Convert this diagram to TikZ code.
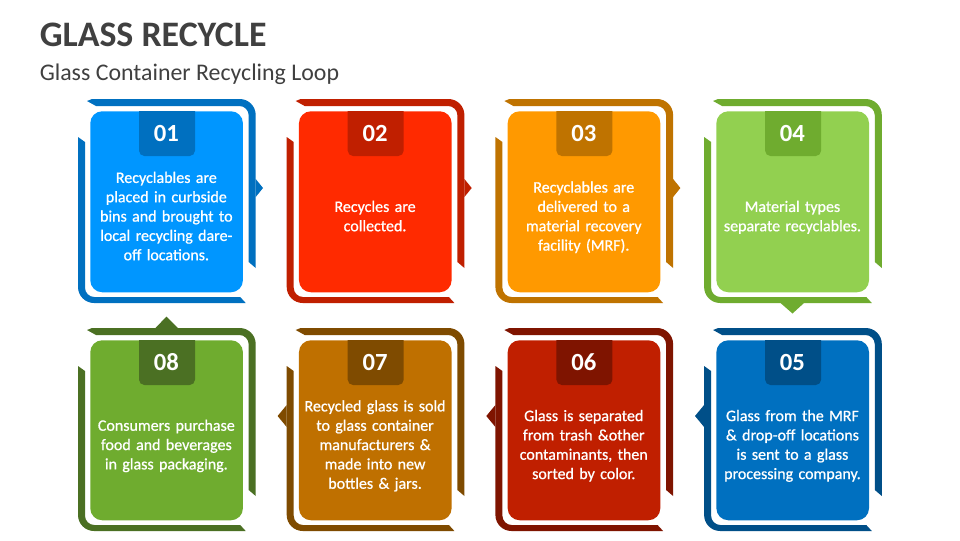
\documentclass[tikz,border=0pt]{standalone}
\usepackage{fontspec}
\setmainfont{Carlito}
\newfontfamily\cardfont[FakeBold=0.8,WordSpace=0.8]{Carlito}
\tikzset{
  x=0.75pt,y=-0.75pt,
  cardbox/.style={anchor=north west,rounded corners=9pt,inner sep=0pt},
  cardtext/.style={text=white,font=\fontsize{12}{14.5}\cardfont,align=center,text width=112pt,inner sep=0pt},
  numtext/.style={text=white,font=\fontsize{18.5}{20}\selectfont\bfseries,inner sep=0pt},
  titletext/.style={anchor=west,text=textgrey,font=\fontsize{26.9}{30}\selectfont\bfseries,inner sep=0pt},
  subtext/.style={anchor=west,text=textgrey,font=\fontsize{17.9}{20}\selectfont,inner sep=0pt},
}
\definecolor{textgrey}{HTML}{404040}
\definecolor{cA}{HTML}{0096FF}\definecolor{dA}{HTML}{0070C0}
\definecolor{cB}{HTML}{FF2A00}\definecolor{dB}{HTML}{C01F00}
\definecolor{cC}{HTML}{FF9900}\definecolor{dC}{HTML}{BF7300}
\definecolor{cD}{HTML}{92D050}\definecolor{dD}{HTML}{6FAC2F}
\definecolor{cE}{HTML}{0070C0}\definecolor{dE}{HTML}{004F88}
\definecolor{cF}{HTML}{C01F00}\definecolor{dF}{HTML}{7F1400}
\definecolor{cG}{HTML}{BF7000}\definecolor{dG}{HTML}{7F4B00}
\definecolor{cH}{HTML}{6FAC2F}\definecolor{dH}{HTML}{4B7023}
% #1 name, #2 x0, #3 y0, #4 y1, #5 fill, #6 dark, #7 number, #8 text, #9 text centre y
\newcommand{\cardblock}[9]{%
  \pgfmathsetmacro{\xa}{#2}\pgfmathsetmacro{\xb}{#2+152.7}
  \pgfmathsetmacro{\ya}{#3}\pgfmathsetmacro{\yb}{#4}
  \pgfmathsetmacro{\hgt}{(#4-#3)*0.75}
  \pgfmathsetmacro{\xm}{#2+76.35}
  % upper right bracket
  \fill[#6] (\xa-3,\ya-10) -- (\xa+2,\ya-12) [rounded corners=12pt] -- (\xb+13,\ya-12)
     [sharp corners] -- (\xb+13,\yb-24) -- (\xb+6,\yb-30) [rounded corners=7pt] -- (\xb+6,\ya-5) [sharp corners] -- (\xa+6,\ya-5) -- cycle;
  % lower left bracket
  \fill[#6] (\xa-12,\ya+26) -- (\xa-5,\ya+31) [rounded corners=7pt] -- (\xa-5,\yb+5) [sharp corners] -- (\xb-2.5,\yb+5)
     -- (\xb+3,\yb+11) [rounded corners=12pt] -- (\xa-12,\yb+11) [sharp corners] -- cycle;
  \node[cardbox,fill=#5,minimum width=114.5pt,minimum height=\hgt pt] (#1) at (\xa,\ya) {};
  \fill[#6] (\xa+49,\ya) [rounded corners=4pt] -- (\xa+49,\ya+45) -- (\xa+105,\ya+45) [sharp corners] -- (\xa+105,\ya) -- cycle;
  \node[numtext] (#1num) at (\xm,\ya+22) {#7};
  \node[cardtext] (#1txt) at (\xm,#9+0.6) {\vphantom{(Ag}#8\vphantom{(Ag}};
}
\begin{document}
\begin{tikzpicture}
\useasboundingbox (0,0) rectangle (960,540);
\fill[white] (0,0) rectangle (960,540);
\node[titletext] (title) at (39.5,34.5) {GLASS RECYCLE};
\node[subtext] (subtitle) at (39.5,74.6) {Glass Container Recycling Loop};
% pointers
\fill[dA] (255.7,179) -- (263,188) -- (255.7,197) -- cycle;
\fill[dB] (464.4,179) -- (471.7,188) -- (464.4,197) -- cycle;
\fill[dC] (673.1,179) -- (680.4,188) -- (673.1,197) -- cycle;
\fill[dD] (780.5,303) -- (792.5,313.5) -- (804,303) -- cycle;
\fill[dE] (704.1,405) -- (695,416) -- (704.1,427) -- cycle;
\fill[dF] (495.4,405) -- (486.3,416) -- (495.4,427) -- cycle;
\fill[dG] (286.7,405) -- (277.6,416) -- (286.7,427) -- cycle;
\fill[dH] (155.5,328) -- (166.5,316.5) -- (178,328) -- cycle;
\cardblock{c1}{90}{111}{292}{cA}{dA}{01}{Recyclables are\\placed in curbside\\bins and brought to\\local recycling dare-\\off locations.}{216.5}
\cardblock{c2}{298.7}{111}{292}{cB}{dB}{02}{Recycles are\\collected.}{216.5}
\cardblock{c3}{507.4}{111}{292}{cC}{dC}{03}{Recyclables are\\delivered to a\\material recovery\\facility (MRF).}{216.5}
\cardblock{c4}{716.1}{111}{292}{cD}{dD}{04}{Material types\\separate recyclables.}{216.5}
\cardblock{c5}{716.1}{340}{520}{cE}{dE}{05}{Glass from the MRF\\\& drop-off locations\\is sent to a glass\\processing company.}{445}
\cardblock{c6}{507.4}{340}{520}{cF}{dF}{06}{Glass is separated\\from trash \&other\\contaminants, then\\sorted by color.}{445}
\cardblock{c7}{298.7}{340}{520}{cG}{dG}{07}{Recycled glass is sold\\to glass container\\manufacturers \&\\made into new\\bottles \& jars.}{445}
\cardblock{c8}{90}{340}{520}{cH}{dH}{08}{Consumers purchase\\food and beverages\\in glass packaging.}{445}
\end{tikzpicture}
\end{document}
